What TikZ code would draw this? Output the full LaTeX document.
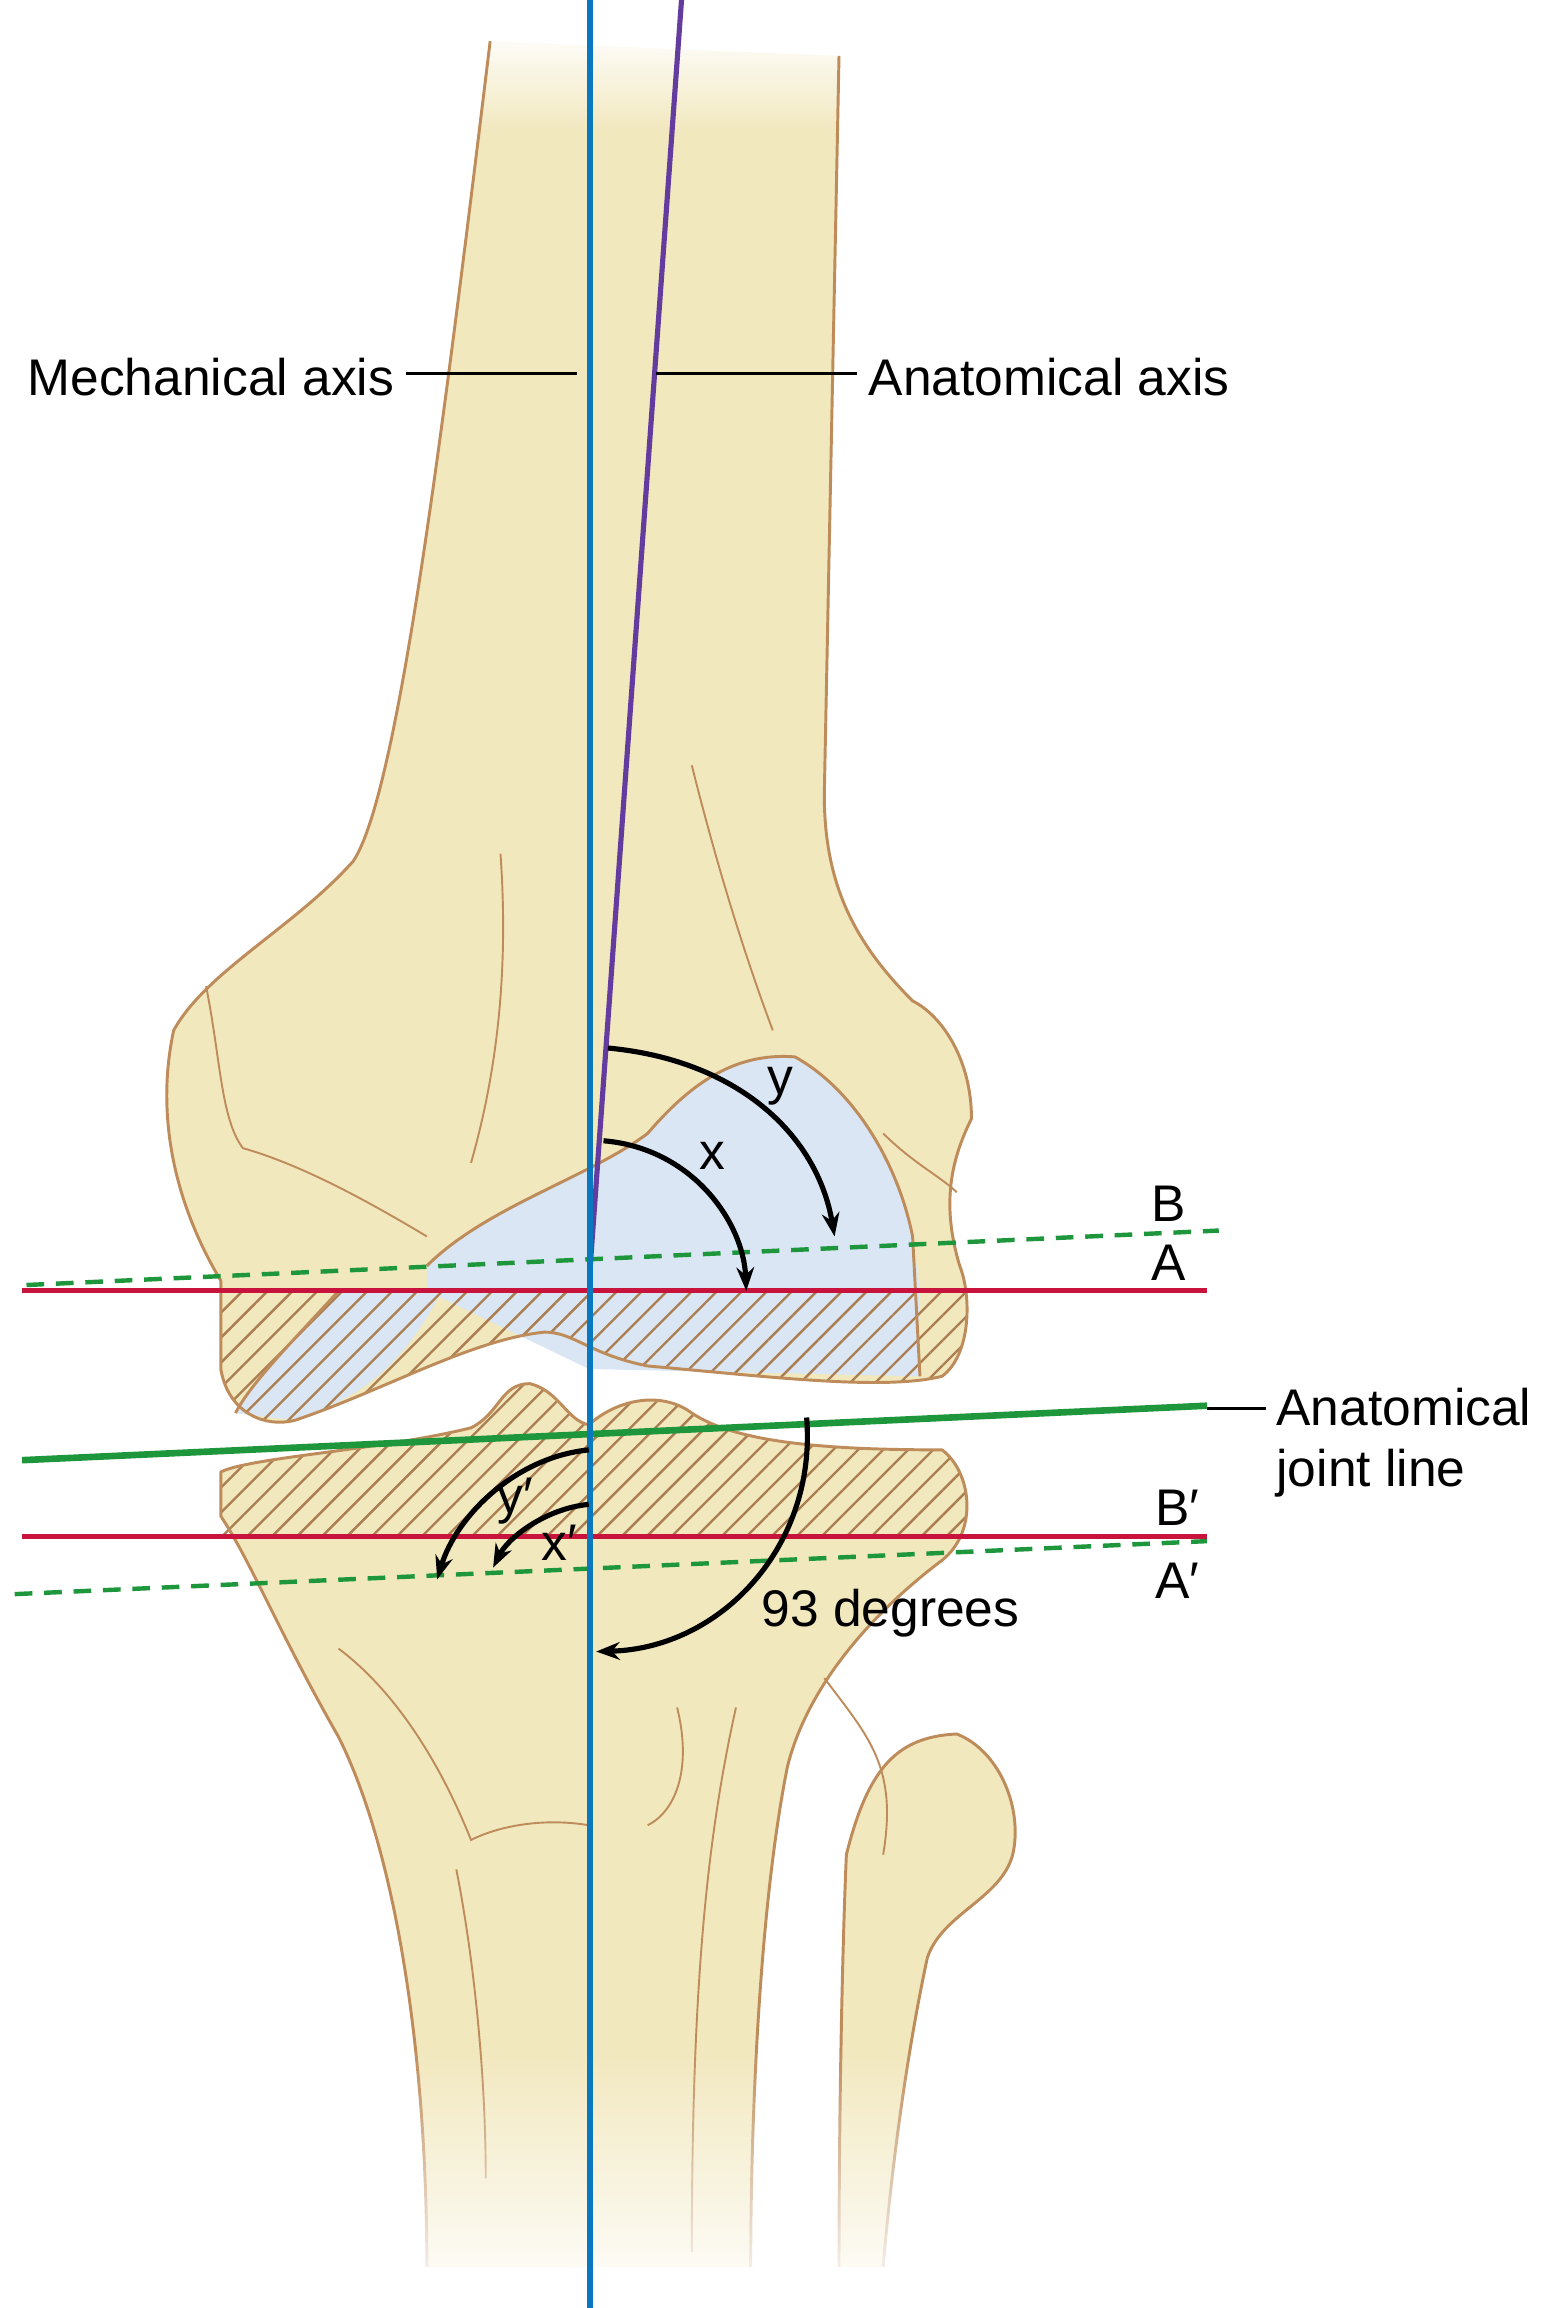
\documentclass[tikz,border=0pt]{standalone}
\usepackage{fontspec}
\setmainfont{Liberation Sans}
\usetikzlibrary{patterns.meta,arrows.meta,fadings}
\definecolor{bone}{RGB}{242,232,190}
\definecolor{boneline}{RGB}{190,140,90}
\definecolor{notch}{RGB}{218,230,244}
\definecolor{axred}{RGB}{200,20,60}
\definecolor{axgreen}{RGB}{30,150,60}
\definecolor{axpurple}{RGB}{100,60,160}
\definecolor{axblue}{RGB}{10,120,190}
\tikzset{
 outl/.style={draw=boneline,line width=2pt,line join=round},
 tex/.style={draw=boneline,line width=1.3pt},
 hatch/.style={pattern={Lines[angle=45,distance=12pt,line width=1.6pt]},pattern color=boneline!90!black},
 arc/.style={draw=black,line width=3.5pt,-{Stealth[length=16pt,width=12pt]}},
 lab/.style={font=\fontsize{35}{41}\selectfont,inner sep=0pt},
 lead/.style={draw=black,line width=2pt},
}
\begin{document}
\begin{tikzpicture}[x=1pt,y=-1pt]
\useasboundingbox (0,0) rectangle (1054,1568);
\fill[white] (0,0) rectangle (1054,1568);
% femur
\path[fill=bone] (333,28) .. controls (300,300) and (270,540) .. (240,585) .. controls (200,630) and (140,660) .. (118,700) .. controls (105,760) and (120,820) .. (150,870) -- (150,930) .. controls (155,960) and (180,970) .. (200,965) .. controls (260,945) and (320,910) .. (370,905) .. controls (390,905) and (400,920) .. (440,928) .. controls (520,935) and (600,945) .. (640,935) .. controls (660,920) and (660,880) .. (652,860) .. controls (640,820) and (645,790) .. (660,760) .. controls (660,720) and (640,690) .. (620,680) .. controls (580,640) and (560,600) .. (560,540) -- (570,38) -- cycle;
\fill[white,path fading=south] (300,20) rectangle (600,90);
\fill[notch] (290,860) .. controls (330,820) and (400,800) .. (440,770) .. controls (470,735) and (500,715) .. (540,718) .. controls (580,740) and (610,790) .. (620,840) -- (625,877) -- (625,935) -- (400,930) -- (290,877) -- cycle;
\fill[notch] (160,960) -- (200,965) .. controls (240,950) and (270,935) .. (300,877) -- (230,877) .. controls (200,910) and (170,940) .. (160,960) -- cycle;
\begin{scope}
\clip (0,877) rectangle (1054,1000);
\path[hatch] (150,870) -- (150,930) .. controls (155,960) and (180,970) .. (200,965) .. controls (260,945) and (320,910) .. (370,905) .. controls (390,905) and (400,920) .. (440,928) .. controls (520,935) and (600,945) .. (640,935) .. controls (660,920) and (660,880) .. (652,860) -- cycle;
\end{scope}
\draw[outl] (333,28) .. controls (300,300) and (270,540) .. (240,585) .. controls (200,630) and (140,660) .. (118,700) .. controls (105,760) and (120,820) .. (150,870) -- (150,930) .. controls (155,960) and (180,970) .. (200,965) .. controls (260,945) and (320,910) .. (370,905) .. controls (390,905) and (400,920) .. (440,928) .. controls (520,935) and (600,945) .. (640,935) .. controls (660,920) and (660,880) .. (652,860) .. controls (640,820) and (645,790) .. (660,760) .. controls (660,720) and (640,690) .. (620,680) .. controls (580,640) and (560,600) .. (560,540) -- (570,38);
\draw[outl] (290,860) .. controls (330,820) and (400,800) .. (440,770) .. controls (470,735) and (500,715) .. (540,718) .. controls (580,740) and (610,790) .. (620,840) -- (625,935);
\draw[outl] (230,877) .. controls (200,910) and (170,940) .. (160,960);
\draw[tex] (140,670) .. controls (150,720) and (150,760) .. (165,780) .. controls (200,790) and (240,810) .. (290,840);
\draw[tex] (340,580) .. controls (345,650) and (340,720) .. (320,790);
\draw[tex] (470,520) .. controls (490,600) and (510,660) .. (525,700);
\draw[tex] (600,770) .. controls (620,790) and (640,800) .. (650,810);
% tibia
\path[fill=bone] (150,1000) .. controls (170,990) and (260,985) .. (320,970) .. controls (340,960) and (340,940) .. (360,940) .. controls (380,945) and (385,965) .. (400,968) .. controls (420,950) and (450,945) .. (470,960) .. controls (500,980) and (560,985) .. (640,985) .. controls (660,1000) and (665,1040) .. (640,1060) .. controls (600,1090) and (550,1140) .. (535,1200) .. controls (515,1300) and (510,1450) .. (510,1540) -- (290,1540) .. controls (290,1400) and (270,1260) .. (230,1180) .. controls (190,1110) and (170,1060) .. (150,1030) -- cycle;
\begin{scope}
\clip (0,0) rectangle (1054,1044);
\path[hatch] (150,1000) .. controls (170,990) and (260,985) .. (320,970) .. controls (340,960) and (340,940) .. (360,940) .. controls (380,945) and (385,965) .. (400,968) .. controls (420,950) and (450,945) .. (470,960) .. controls (500,980) and (560,985) .. (640,985) .. controls (660,1000) and (665,1040) .. (640,1060) -- (150,1060) -- cycle;
\end{scope}
\draw[outl] (290,1540) .. controls (290,1400) and (270,1260) .. (230,1180) .. controls (190,1110) and (170,1060) .. (150,1030) -- (150,1000) .. controls (170,990) and (260,985) .. (320,970) .. controls (340,960) and (340,940) .. (360,940) .. controls (380,945) and (385,965) .. (400,968) .. controls (420,950) and (450,945) .. (470,960) .. controls (500,980) and (560,985) .. (640,985) .. controls (660,1000) and (665,1040) .. (640,1060) .. controls (600,1090) and (550,1140) .. (535,1200) .. controls (515,1300) and (510,1450) .. (510,1540);
% fibula
\path[fill=bone] (575,1260) .. controls (590,1200) and (610,1180) .. (650,1178) .. controls (680,1190) and (695,1230) .. (688,1260) .. controls (680,1290) and (640,1300) .. (630,1330) .. controls (615,1400) and (605,1480) .. (600,1540) -- (570,1540) .. controls (570,1440) and (572,1330) .. (575,1260) -- cycle;
\draw[outl] (570,1540) .. controls (570,1440) and (572,1330) .. (575,1260) .. controls (590,1200) and (610,1180) .. (650,1178) .. controls (680,1190) and (695,1230) .. (688,1260) .. controls (680,1290) and (640,1300) .. (630,1330) .. controls (615,1400) and (605,1480) .. (600,1540);
\draw[tex] (230,1120) .. controls (270,1150) and (300,1200) .. (320,1250) .. controls (340,1240) and (370,1235) .. (400,1240);
\draw[tex] (440,1240) .. controls (460,1230) and (470,1200) .. (460,1160);
\draw[tex] (500,1160) .. controls (480,1250) and (470,1350) .. (470,1530);
\draw[tex] (560,1140) .. controls (590,1180) and (610,1200) .. (600,1260);
\draw[tex] (330,1480) .. controls (330,1400) and (320,1320) .. (310,1270);
% fade at bottom
\fill[white,path fading=north] (0,1390) rectangle (1054,1568);
% axes and lines
\draw[axgreen,line width=3pt,dash pattern=on 12pt off 8pt] (18,873) -- (828,836);
\draw[axgreen,line width=3pt,dash pattern=on 12pt off 8pt] (10,1083) -- (820,1047);
\draw[axred,line width=3.5pt] (15,877) -- (820,877);
\draw[axred,line width=3.5pt] (15,1044) -- (820,1044);
\draw[axgreen,line width=4.5pt] (15,992) -- (820,955);
\draw[axpurple,line width=3.5pt] (463,0) -- (401,860);
\draw[axblue,line width=4pt] (401,0) -- (401,1568);
% arcs
\draw[arc] (413,712) .. controls (500,720) and (555,770) .. (567,840);
\draw[arc] (410,775) .. controls (470,780) and (505,830) .. (507,877);
\draw[arc] (548,963) .. controls (555,1050) and (490,1120) .. (405,1122);
\draw[arc] (400,985) .. controls (350,990) and (310,1030) .. (297,1073);
\draw[arc] (400,1022) .. controls (370,1025) and (345,1045) .. (335,1065);
% labels
\node[lab,anchor=east] (mech) at (268,256) {Mechanical axis};
\node[lab,anchor=west] (anat) at (590,256) {Anatomical axis};
\draw[lead] (276,254) -- (392,254);
\draw[lead] (446,254) -- (582,254);
\node[lab] (B) at (794,818) {B};
\node[lab] (A) at (794,858) {A};
\node[lab,anchor=west,align=left] (ajl) at (867,980) {Anatomical\\joint line};
\draw[lead] (820,957) -- (860,957);
\node[lab] (Bp) at (800,1024) {B′};
\node[lab] (Ap) at (800,1074) {A′};
\node[lab] (deg) at (605,1096) {93 degrees};
\node[lab] (y) at (530,738) {y};
\node[lab] (x) at (484,785) {x};
\node[lab] (yp) at (350,1020) {y′};
\node[lab] (xp) at (380,1048) {x′};
\end{tikzpicture}
\end{document}
